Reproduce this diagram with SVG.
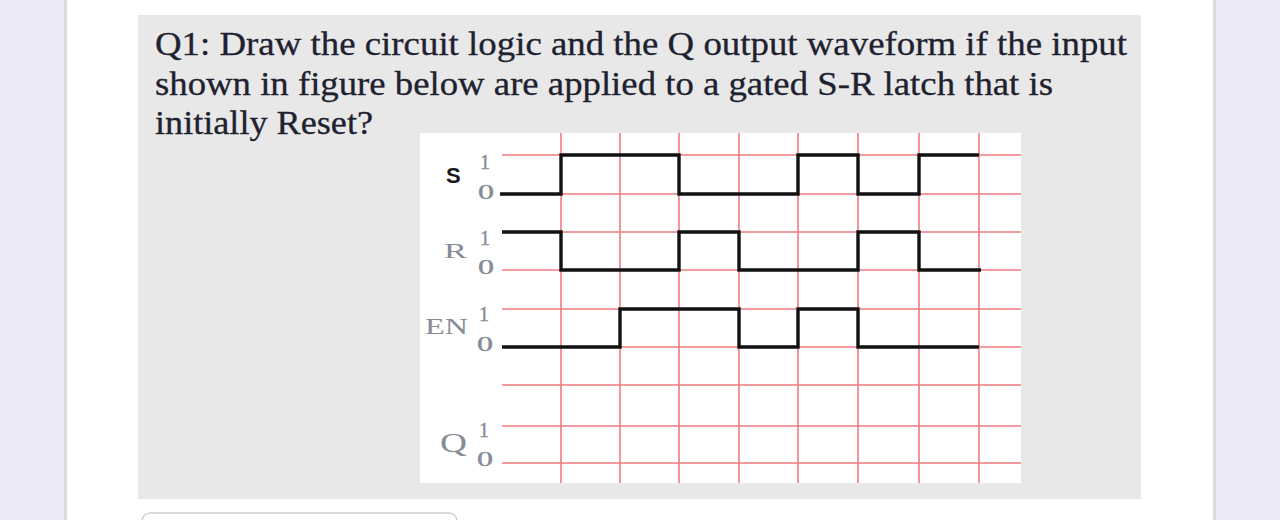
<svg xmlns="http://www.w3.org/2000/svg" width="1280" height="520" viewBox="0 0 1280 520">
<style>
.q{font-family:"Liberation Serif","DejaVu Serif",serif;font-size:34px;fill:#1e2230;stroke:#1e2230;stroke-width:0.3}
.grid line{stroke:#f07a80;stroke-width:1.6}
.wave{fill:none;stroke:#111;stroke-width:3.4;stroke-linejoin:miter}
.lab{font-family:"Liberation Serif","DejaVu Serif",serif;fill:#868c95}
.dig{font-family:"Liberation Serif","DejaVu Serif",serif;fill:#868c95;font-size:21px;stroke:#868c95;stroke-width:0.4}
</style>
<rect x="0" y="0" width="1280" height="520" fill="#ffffff"/>
<rect x="0" y="0" width="64" height="520" fill="#ece9f7"/>
<rect x="64" y="0" width="3" height="520" fill="#dcdae3"/>
<rect x="1216" y="0" width="64" height="520" fill="#ece9f7"/>
<rect x="1213" y="0" width="3" height="520" fill="#dcdae3"/>
<rect x="138" y="15" width="1003" height="484" fill="#e8e8e8"/>
<rect x="142" y="513" width="315" height="20" rx="8" fill="#ffffff" stroke="#cfcfcf" stroke-width="1.5"/>
<g id="question">
<text class="q" x="155" y="55" textLength="972" lengthAdjust="spacingAndGlyphs">Q1: Draw the circuit logic and the Q output waveform if the input</text>
<text class="q" x="155" y="95" textLength="898" lengthAdjust="spacingAndGlyphs">shown in figure below are applied to a gated S-R latch that is</text>
<text class="q" x="155" y="134" textLength="218" lengthAdjust="spacingAndGlyphs">initially Reset?</text>
</g>
<rect x="420" y="133" width="601" height="350" fill="#ffffff"/>
<g id="grid" class="grid">
<line x1="502" y1="155" x2="1021" y2="155"/>
<line x1="502" y1="194" x2="1021" y2="194"/>
<line x1="502" y1="232" x2="1021" y2="232"/>
<line x1="502" y1="270" x2="1021" y2="270"/>
<line x1="502" y1="309" x2="1021" y2="309"/>
<line x1="502" y1="347" x2="1021" y2="347"/>
<line x1="502" y1="385" x2="1021" y2="385"/>
<line x1="502" y1="426" x2="1021" y2="426"/>
<line x1="502" y1="463" x2="1021" y2="463"/>
<line x1="561" y1="133" x2="561" y2="483"/>
<line x1="620" y1="133" x2="620" y2="483"/>
<line x1="679" y1="133" x2="679" y2="483"/>
<line x1="739" y1="133" x2="739" y2="483"/>
<line x1="798" y1="133" x2="798" y2="483"/>
<line x1="858" y1="133" x2="858" y2="483"/>
<line x1="919" y1="133" x2="919" y2="483"/>
<line x1="979" y1="133" x2="979" y2="483"/>
</g>
<g id="S">
<text x="446" y="183" font-family="Liberation Sans,Arial,sans-serif" font-weight="bold" font-size="22" fill="#1a1a1a">S</text>
<text class="dig" x="480" y="169" textLength="10" lengthAdjust="spacingAndGlyphs">1</text>
<text class="dig" x="478" y="199" textLength="16" lengthAdjust="spacingAndGlyphs">0</text>
<path class="wave" d="M500 194 H561 V155 H679 V194 H798 V155 H858 V194 H919 V155 H979"/>
</g>
<g id="R">
<text class="lab" x="444" y="258" font-size="20" textLength="23" lengthAdjust="spacingAndGlyphs">R</text>
<text class="dig" x="480" y="245" textLength="10" lengthAdjust="spacingAndGlyphs">1</text>
<text class="dig" x="478" y="274" textLength="16" lengthAdjust="spacingAndGlyphs">0</text>
<path class="wave" d="M502 232 H561 V270 H679 V232 H739 V270 H858 V232 H919 V270 H981"/>
</g>
<g id="EN">
<text class="lab" x="425" y="334" font-size="24" textLength="43" lengthAdjust="spacingAndGlyphs">EN</text>
<text class="dig" x="479" y="321" textLength="10" lengthAdjust="spacingAndGlyphs">1</text>
<text class="dig" x="477" y="351" textLength="16" lengthAdjust="spacingAndGlyphs">0</text>
<path class="wave" d="M502 347 H620 V309 H739 V347 H798 V309 H858 V347 H979"/>
</g>
<g id="Q">
<text class="lab" x="440" y="452" font-size="28" textLength="27" lengthAdjust="spacingAndGlyphs">Q</text>
<text class="dig" x="479" y="437" textLength="10" lengthAdjust="spacingAndGlyphs">1</text>
<text class="dig" x="477" y="466" textLength="16" lengthAdjust="spacingAndGlyphs">0</text>
</g>
<g id="connectors"></g>
</svg>
